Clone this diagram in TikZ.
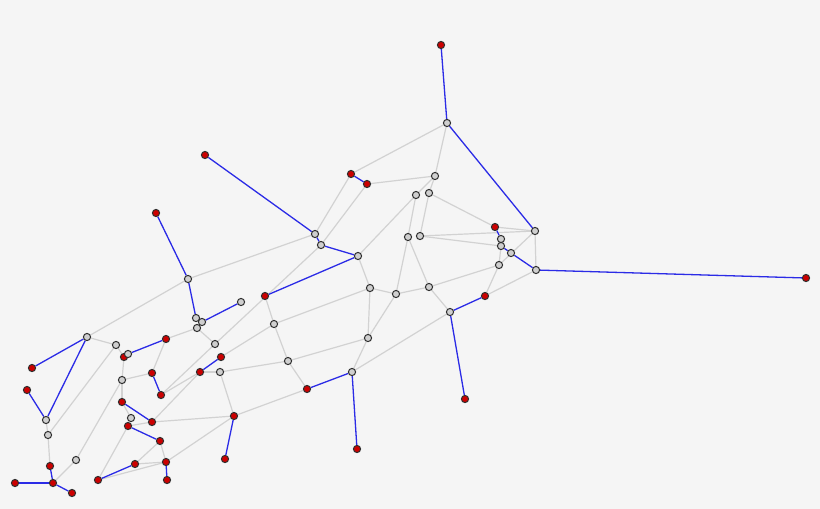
\documentclass[tikz,border=0pt]{standalone}
\definecolor{bgc}{HTML}{F5F5F5}
\definecolor{edgegray}{HTML}{D2D2D2}
\definecolor{edgeblue}{HTML}{2B2BE6}
\definecolor{redfill}{HTML}{CC0000}
\definecolor{grayfill}{HTML}{CFCFCF}
\definecolor{outl}{HTML}{303030}
\pgfdeclarelayer{bgl}
\pgfdeclarelayer{edgel}
\pgfsetlayers{bgl,edgel,main}
\tikzset{
  vx/.style={circle,draw=outl,line width=1pt,inner sep=0pt,minimum size=7.2pt},
  rn/.style={vx,fill=redfill},
  gn/.style={vx,fill=grayfill},
  ge/.style={draw=edgegray,line width=1.2pt},
  be/.style={draw=edgeblue,line width=1.3pt}
}
\begin{document}
\begin{tikzpicture}[x=1pt,y=-1pt]
\begin{pgfonlayer}{bgl}
\fill[bgc] (0,0) rectangle (820,509);
\end{pgfonlayer}
\useasboundingbox (0,0) rectangle (820,509);
% red nodes
\foreach \n/\x/\y in {R1/441/45,R2/351/174,R3/367/184,R4/495/227,R5/485/296,R6/806/278,R7/465/399,R8/307/389,R9/357/449,R10/205/155,R11/265/296,R34/156/213,R12/124/357,R13/166/339,R14/152/373,R15/161/395,R16/122/402,R17/221/357,R18/200/372,R19/234/416,R21/225/459,R28/128/426,R20/152/422,R29/160/441,R30/166/462,R31/167/480,R32/135/464,R33/98/480,R22/32/368,R23/27/390,R24/50/466,R25/53/483,R26/15/483,R27/72/493}
  \node[rn] (\n) at (\x,\y) {};
% gray nodes
\foreach \n/\x/\y in {G1/447/123,G2/435/176,G3/416/195,G4/429/193,G5/315/234,G6/321/245,G7/358/256,G8/408/237,G9/420/236,G10/535/231,G11/501/239,G12/501/246,G13/511/253,G14/536/270,G15/499/265,G16/370/288,G17/396/294,G18/429/287,G19/450/312,G20/368/338,G21/352/372,G22/288/361,G23/274/324,G24/188/279,G25/196/318,G26/202/322,G27/197/328,G28/241/302,G29/215/344,G30/116/345,G31/128/354,G32/122/380,G33/220/372,G34/131/418,G35/87/337,G36/46/420,G37/48/435,G38/76/460}
  \node[gn] (\n) at (\x,\y) {};
\begin{pgfonlayer}{edgel}
% gray edges
\foreach \a/\b in {G1/R2,G1/G2,G2/R3,G2/G3,G2/G4,G3/G7,G3/G8,G4/G9,G4/R4,R4/G10,G9/G10,G9/G12,G10/G15,G10/G14,G12/G15,G15/G18,G15/R5,G14/R5,G19/G18,G19/G21,R2/G5,R3/G6,G7/G16,G16/G17,G17/G8,G18/G8,G17/G18,G16/G20,G17/G20,G20/G21,G20/G22,G16/G23,G23/R11,G23/G22,G22/R8,G23/R17,G33/G22,R18/G33,G33/R19,R19/R8,R19/R20,R19/R30,R20/R28,R28/R33,R29/R30,R29/R32,R32/R30,R33/R30,G5/G24,G24/G35,G35/G30,G30/R12,R12/G32,G32/R14,R13/R14,R13/G27,G27/G29,G29/G6,G29/R15,R15/R18,R20/R18,G32/R16,R16/G34,G32/G38,G38/R25,G37/G30,G36/G37,G37/R24}
  \draw[ge] (\a) -- (\b);
% blue edges
\foreach \a/\b in {R1/G1,G1/G10,R4/G11,G11/G12,G12/G13,G13/G14,G14/R6,R5/G19,G19/R7,R2/R3,R10/G5,G5/G6,G6/G7,G7/R11,R34/G24,G24/G25,G26/G28,G21/R8,G21/R9,R19/R21,R18/R17,R14/R15,G31/R13,R16/R20,R28/R29,R30/R31,R33/R32,G35/R22,G35/G36,R23/G36,R24/R25,R25/R26,R25/R27}
  \draw[be] (\a) -- (\b);
\end{pgfonlayer}
\end{tikzpicture}
\end{document}
